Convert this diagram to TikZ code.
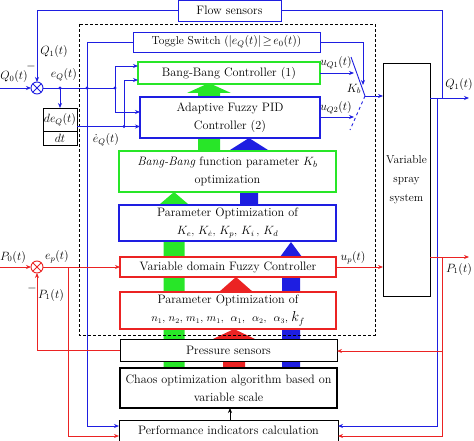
\documentclass[tikz,border=0pt]{standalone}
\usepackage{amsmath}
\usetikzlibrary{arrows.meta,calc}
\definecolor{cb}{RGB}{30,30,225}
\definecolor{cg}{RGB}{40,230,40}
\definecolor{cr}{RGB}{235,35,35}
\newcommand{\fatarr}[7]{%
  \fill[#1] ({#2-#6},#3) -- ({#2-#6},#4) -- ({#2-#7},#4) -- (#2,#5) -- ({#2+#7},#4) -- ({#2+#6},#4) -- ({#2+#6},#3) -- cycle;}
\begin{document}
\begin{tikzpicture}[x=1pt,y=-1pt,
  txt/.style={font=\fontsize{12.2}{18}\selectfont},
  box/.style={draw, fill=white, inner sep=0pt, outer sep=0pt, align=center, txt, line width=0.9pt},
  gbox/.style={box, draw=cg, line width=2.3pt},
  bbox/.style={box, draw=cb, line width=2.3pt},
  rbox/.style={box, draw=cr, line width=2.3pt},
  kbox/.style={box, draw=black, line width=2pt},
  lab/.style={font=\fontsize{11.5}{13}\selectfont, inner sep=0pt},
  arr/.style={-{Stealth[length=5pt,width=4pt]}},
  bl/.style={draw=cb, line width=0.9pt},
  rl/.style={draw=cr, line width=0.9pt},
  dot/.style={circle, fill=cb, inner sep=0pt, minimum size=3.2pt},
  sumj/.style={circle, draw=#1, line width=0.9pt, minimum size=12pt, inner sep=0pt, outer sep=0pt}
]
\useasboundingbox (0,0) rectangle (474,441);

% fat arrows (behind boxes)
\fatarr{cg}{209}{152}{93}{83}{11}{22}
\fatarr{cg}{174}{368}{204}{192}{10.5}{14}
\fatarr{cb}{249}{205}{150}{138}{9}{19}
\fatarr{cb}{291}{368}{257}{242}{9}{11}
\fatarr{cr}{234}{368}{339}{329}{11}{21}
\fatarr{cr}{236}{320}{292}{277}{11}{17}

% dashed frame
\draw[line width=0.9pt, dash pattern=on 3pt off 2pt] (79,24) rectangle (375,335);

% boxes
\node[box, draw=cb, minimum width=103pt, minimum height=21pt] (flow) at (229.5,10.5) {Flow sensors};
\node[box, draw=cb, minimum width=187pt, minimum height=20pt, font=\fontsize{11.5}{14}\selectfont] (toggle) at (226.5,42) {Toggle Switch ($|e_Q(t)|\!\geq\! e_0(t)$)};
\node[gbox, minimum width=182pt, minimum height=22pt] (bbc) at (229,73) {Bang-Bang Controller (1)};
\node[bbox, minimum width=180pt, minimum height=41pt] (afc) at (230,117.5) {Adaptive Fuzzy PID\\Controller (2)};
\node[gbox, minimum width=217pt, minimum height=41pt] (bbf) at (227.5,171.5) {\textit{Bang-Bang} function parameter $K_b$\\optimization};
\node[bbox, minimum width=217pt, minimum height=36pt] (pok) at (227.5,223) {Parameter Optimization of\\{\fontsize{11.5}{18}\selectfont$K_e$,\ $K_{\dot e}$,\ $K_p$,\ $K_i$\,,\ $K_d$}};
\node[rbox, minimum width=216pt, minimum height=20pt] (vdf) at (228,267) {Variable domain Fuzzy Controller};
\node[rbox, minimum width=216pt, minimum height=37pt] (pon) at (228,310.5) {Parameter Optimization of\\{\fontsize{10.5}{18}\selectfont $n_1$, $n_2$, $m_1$, $m_1$,\ \ $\alpha_1$,\ \ $\alpha_2$,\ \ $\alpha_3$,\ }{\fontsize{13.5}{18}\selectfont$k_f$}};
\node[box, minimum width=217pt, minimum height=22pt] (ps) at (228.5,350) {Pressure sensors};
\node[kbox, minimum width=217pt, minimum height=40pt] (chaos) at (228.5,388) {Chaos optimization algorithm based on\\variable scale};
\node[box, minimum width=219pt, minimum height=21pt] (perf) at (228.5,430.5) {Performance indicators calculation};
\node[box, minimum width=47pt, minimum height=233pt, font=\fontsize{11.5}{19}\selectfont] (sys) at (406.5,179.5) {Variable\\spray\\system};
\node[box, minimum width=34pt, minimum height=37pt] (deriv) at (60,126.5) {};
\coordinate (dv) at (0,131);
\draw[line width=0.9pt] (deriv.west |- dv) -- (deriv.east |- dv);
\node[lab] (dnum) at (60,119.5) {$de_Q(t)$};
\node[lab] (dden) at (60,138.5) {$dt$};

% summing junctions
\node[sumj=cb] (sq) at (37,88) {};
\draw[cb, line width=0.8pt] (sq.north west) -- (sq.south east) (sq.north east) -- (sq.south west);
\node[sumj=cr] (sp) at (37,267) {};
\draw[cr, line width=0.8pt] (sp.north west) -- (sp.south east) (sp.north east) -- (sp.south west);

% ---- blue connectors
\coordinate (qo) at (469,98);
\coordinate (fc) at (442,98);
\draw[bl,arr] (sys.east |- qo) -- (qo);
\draw[bl] (fc) |- (flow.east);
\draw[bl,arr] (flow.west) -| (sq.north);
\coordinate (q0in) at (0,88);
\draw[bl,arr] (q0in) -- (sq.west);
\coordinate (j1) at (60,88);
\coordinate (j2) at (87,88);
\coordinate (j3) at (115,88);
\coordinate (j4) at (124,126.5);
\draw[bl] (sq.east) -- (j3);
\draw[bl,arr] (j1) -- (deriv.north);
\coordinate (j2b) at (87,426);
\draw[bl] (j2 |- toggle.west) -- (toggle.west);
\draw[bl,arr] (j2 |- toggle.west) -- (j2b) -- (perf.west |- j2b);
\coordinate (bbin1) at (138,66);
\coordinate (bbin2) at (138,80);
\coordinate (afin1) at (140,112);
\coordinate (afin2) at (140,126.5);
\draw[bl,arr] (j3) |- (bbin1);
\draw[bl,arr] (j3) |- (afin1);
\draw[bl,arr] (deriv.east) -- (afin2);
\draw[bl,arr] (j4) |- (bbin2);
\node[dot] (d1) at (j1) {};
\node[dot] (d2) at (j2) {};
\node[dot] (d3) at (j3) {};
\node[dot] (d4) at (j4) {};
\coordinate (tg) at (363,85);
\draw[bl,arr] (toggle.east) -| (tg);
\coordinate (uq1) at (354,73);
\coordinate (uq2) at (354,117);
\draw[bl,arr] (bbc.east |- uq1) -- (uq1);
\draw[bl,arr] (afc.east |- uq2) -- (uq2);
\coordinate (swa) at (351,57);
\coordinate (swp) at (365,96);
\coordinate (swb) at (350,130);
\draw[bl] (swa) -- (swp);
\draw[bl, dashed] (swp) -- (swb);
\draw[bl,arr] (swp) -- (sys.west |- swp);
\coordinate (j5) at (437,98);
\coordinate (j5b) at (437,426);
\draw[bl,arr] (j5) -- (j5b) -- (perf.east |- j5b);

% ---- red connectors
\coordinate (p0in) at (0,267);
\draw[rl,arr] (p0in) -- (sp.west);
\draw[rl,arr] (sp.east) -- (vdf.west);
\coordinate (j6) at (68,267);
\coordinate (j6b) at (68,436);
\draw[rl,arr] (j6) -- (j6b) -- (perf.west |- j6b);
\draw[rl,arr] (ps.west) -| (sp.south);
\draw[rl,arr] (vdf.east) -- (sys.west |- vdf.east);
\coordinate (po) at (469,257);
\draw[rl,arr] (sys.east |- po) -- (po);
\coordinate (j7) at (442,257);
\coordinate (j7b) at (442,436);
\draw[rl,arr] (j7) -- (j7b) -- (perf.east |- j7b);
\coordinate (j8) at (442,351);
\draw[rl,arr] (j8) -- (ps.east |- j8);

% black arrow
\coordinate (ca) at (230,0);
\draw[arr, line width=0.7pt] (perf.north -| ca) -- (chaos.south -| ca);

% labels
\node[lab] (lq0) at (14,77) {$Q_0(t)$};
\node[lab] (lq1) at (54,52) {$Q_1(t)$};
\node[lab] (lmq) at (31,67) {$-$};
\node[lab] (leq) at (64,75) {$e_Q(t)$};
\node[lab] (led) at (106,140) {$\dot e_Q(t)$};
\node[lab] (luq1) at (336,63) {$u_{Q1}(t)$};
\node[lab] (luq2) at (336,108) {$u_{Q2}(t)$};
\node[lab] (lkb) at (354,89) {$K_b$};
\node[lab] (lq1r) at (459,85) {$Q_1(t)$};
\node[lab] (lp0) at (13,257) {$P_0(t)$};
\node[lab] (lep) at (57,257) {$e_p(t)$};
\node[lab] (lmp) at (32,288) {$-$};
\node[lab] (lp1) at (51,295) {$P_1(t)$};
\node[lab] (lup) at (353,258) {$u_p(t)$};
\node[lab] (lp1r) at (459,269) {$P_1(t)$};
\end{tikzpicture}
\end{document}
